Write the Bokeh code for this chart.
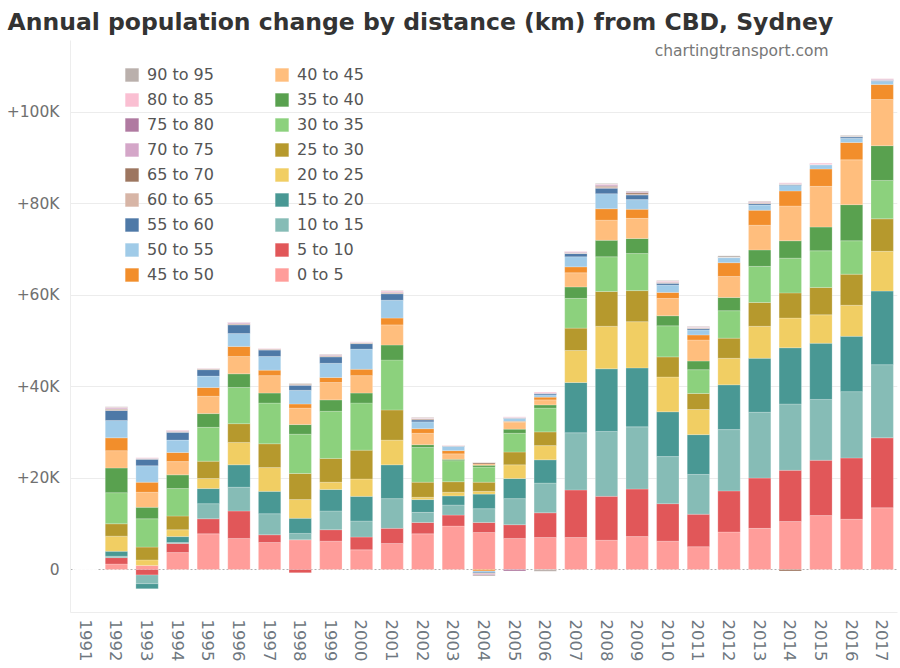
from bokeh.plotting import figure
from bokeh.models import (ColumnDataSource, Legend, LegendItem, FixedTicker,
                          CustomJSTickFormatter, Span, Label)
from bokeh.embed import file_html
from bokeh.resources import INLINE

# ---------------- data (thousands of persons) ----------------
years = [str(y) for y in range(1991, 2018)]

d0_5   = [0, 1.2, 0.9, 3.7, 7.8, 6.8, 5.9, 6.5, 6.2, 4.3, 5.7, 7.8, 9.5, 8.1, 6.8, 7.0, 7.0, 6.4, 7.2, 6.2, 5.0, 8.2, 9.0, 10.5, 11.8, 11.0, 13.5]
d5_10  = [0, 1.4, -1.2, 2.0, 3.3, 6.0, 1.7, -0.7, 2.5, 2.8, 3.3, 2.5, 2.4, 2.2, 3.0, 5.4, 10.4, 9.6, 10.4, 8.2, 7.1, 9.0, 11.0, 11.2, 12.1, 13.4, 15.3]
d10_15 = [0, 0.3, -1.9, 0.2, 3.3, 5.2, 4.6, 1.4, 4.1, 3.5, 6.5, 2.2, 2.2, 3.0, 5.7, 6.5, 12.5, 14.2, 13.6, 10.3, 8.7, 13.4, 14.4, 14.5, 13.3, 14.5, 16.0]
d15_20 = [0, 1.1, -1.1, 1.3, 3.3, 4.9, 4.9, 3.3, 4.7, 5.4, 7.4, 2.8, 2.0, 3.2, 4.4, 5.1, 11.0, 13.7, 12.9, 9.8, 8.7, 9.8, 11.8, 12.3, 12.3, 12.1, 16.1]
d20_25 = [0, 3.3, 1.2, 1.5, 2.2, 4.9, 5.2, 4.1, 1.6, 3.8, 5.4, 0.5, 0.8, 0.6, 3.0, 3.1, 7.0, 9.3, 10.1, 7.6, 5.5, 5.8, 7.0, 6.5, 6.2, 6.8, 8.7]
d25_30 = [0, 2.7, 2.8, 3.0, 3.8, 4.1, 5.2, 5.7, 5.2, 6.3, 6.6, 3.3, 2.3, 2.0, 2.8, 3.0, 4.9, 7.6, 6.8, 4.4, 3.5, 4.4, 5.2, 5.5, 6.0, 6.8, 7.1]
d30_35 = [0, 6.8, 6.2, 6.0, 7.4, 7.9, 8.9, 8.6, 10.3, 10.3, 10.9, 7.6, 4.6, 3.3, 4.1, 5.2, 6.5, 7.6, 8.1, 6.8, 5.2, 6.0, 7.9, 7.6, 8.0, 7.3, 8.4]
d35_40 = [0, 5.4, 2.5, 3.0, 3.0, 3.0, 2.2, 2.1, 2.5, 2.2, 3.3, 0.6, 0.3, 0.4, 0.9, 0.7, 2.5, 3.6, 3.3, 2.2, 1.9, 2.9, 3.6, 3.8, 5.2, 7.9, 7.6]
d40_45 = [0, 3.8, 3.3, 2.9, 3.8, 3.8, 3.8, 3.6, 3.8, 3.8, 4.4, 2.5, 1.2, 0.3, 1.5, 1.1, 3.1, 4.4, 4.4, 3.8, 4.6, 4.6, 5.4, 7.6, 8.9, 9.8, 10.1]
d45_50 = [0, 2.8, 2.2, 2.0, 1.9, 2.2, 1.2, 0.9, 1.1, 1.4, 1.5, 1.0, 0.7, -0.3, 0.2, 0.6, 1.3, 2.5, 2.0, 1.3, 1.1, 3.0, 3.3, 3.3, 3.8, 3.8, 3.3]
d50_55 = [0, 3.8, 3.6, 2.7, 2.5, 2.8, 3.0, 3.0, 3.1, 4.4, 3.9, 1.5, 0.9, -0.3, 0.6, 0.5, 2.2, 3.3, 2.1, 1.6, 1.1, 1.1, 1.1, 1.2, 0.9, 0.9, 0.7]
d55_60 = [0, 2.2, 1.4, 1.7, 1.4, 1.9, 1.4, 1.1, 1.4, 1.2, 1.4, 0.4, 0.1, -0.2, 0.1, 0.3, 0.7, 1.2, 1.0, 0.4, 0.3, 0.1, 0.3, 0.2, 0.1, 0.3, 0.2]
d60_65 = [0, 0.2, 0.1, 0.1, 0.1, 0.1, 0.1, 0.1, 0.1, 0.1, 0.1, 0.1, 0.0, -0.2, 0.1, 0.0, 0.1, 0.2, 0.2, 0.1, 0.1, 0.0, 0.1, 0.1, 0.0, 0.1, 0.0]
d65_70 = [0, 0.1, 0.1, 0.1, 0.1, 0.1, 0.1, 0.2, 0.1, 0.1, 0.1, 0.2, 0.1, 0.3, 0.0, 0.0, 0.1, 0.2, 0.3, 0.1, 0.1, 0.0, 0.1, -0.3, 0.0, 0.0, 0.0]
d70_75 = [0, 0.2, 0.1, 0.1, 0.1, 0.2, 0.1, 0.0, 0.1, 0.1, 0.1, 0.1, 0.0, -0.2, 0.1, 0.0, 0.1, 0.2, 0.1, 0.1, 0.1, 0.0, 0.1, 0.0, 0.0, 0.0, 0.1]
d75_80 = [0, 0.1, 0.0, 0.1, 0.0, 0.1, 0.0, 0.0, 0.1, 0.0, 0.1, 0.0, 0.0, 0.0, -0.3, 0.1, 0.1, 0.2, 0.2, 0.1, 0.0, 0.0, 0.1, 0.1, 0.0, 0.0, 0.1]
d80_85 = [0, 0.1, 0.1, 0.1, 0.1, 0.1, 0.1, 0.0, 0.1, 0.1, 0.2, 0.1, 0.1, 0.0, 0.1, 0.2, 0.1, 0.1, 0.0, 0.1, 0.1, 0.0, 0.1, 0.2, 0.3, 0.0, 0.2]
d90_95 = [0, 0.1, 0.0, 0.0, 0.0, 0.0, 0.0, 0.1, 0.1, 0.0, 0.1, 0.1, 0.0, -0.2, 0.0, -0.4, 0.0, 0.1, 0.1, 0.1, 0.1, 0.3, 0.1, 0.0, 0.0, 0.2, 0.0]

band_names = ["0 to 5", "5 to 10", "10 to 15", "15 to 20", "20 to 25", "25 to 30",
              "30 to 35", "35 to 40", "40 to 45", "45 to 50", "50 to 55", "55 to 60",
              "60 to 65", "65 to 70", "70 to 75", "75 to 80", "80 to 85", "90 to 95"]
band_values = [d0_5, d5_10, d10_15, d15_20, d20_25, d25_30, d30_35, d35_40, d40_45,
               d45_50, d50_55, d55_60, d60_65, d65_70, d70_75, d75_80, d80_85, d90_95]
band_colors = ["#FF9D9A", "#E15759", "#86BCB6", "#499894", "#F1CE63", "#B6992D",
               "#8CD17D", "#59A14F", "#FFBE7D", "#F28E2B", "#A0CBE8", "#4E79A7",
               "#D7B5A6", "#9D7660", "#D4A6C8", "#B07AA1", "#FABFD2", "#BAB0AC"]

y_ticks = [0, 20, 40, 60, 80, 100]

FONT = "DejaVu Sans"

p = figure(width=900, height=668, x_range=years, y_range=(-9.4, 115.7),
           output_backend="svg", toolbar_location=None,
           min_border_left=70, min_border_right=3, min_border_top=38,
           min_border_bottom=56)

p.title.text = "Annual population change by distance (km) from CBD, Sydney"
p.title.text_font = FONT
p.title.text_font_style = "bold"
p.title.text_font_size = "23.5px"
p.title.text_color = "#333333"
p.title.offset = -63

# stacked bars: positives upward from zero, negatives downward
pos_base = [0.0] * len(years)
neg_base = [0.0] * len(years)
renderers = {}
for name, vals, col in zip(band_names, band_values, band_colors):
    bottoms, tops = [], []
    for i, v in enumerate(vals):
        if v >= 0:
            bottoms.append(pos_base[i]); tops.append(pos_base[i] + v)
            pos_base[i] += v
        else:
            bottoms.append(neg_base[i] + v); tops.append(neg_base[i])
            neg_base[i] += v
    src = ColumnDataSource(dict(x=years, bottom=bottoms, top=tops))
    r = p.vbar(x="x", bottom="bottom", top="top", width=0.73, source=src,
               fill_color=col, line_color="white", line_alpha=0.35, line_width=0.6)
    renderers[name] = r

# legends (two columns)
left_col = ["90 to 95", "80 to 85", "75 to 80", "70 to 75", "65 to 70",
            "60 to 65", "55 to 60", "50 to 55", "45 to 50"]
right_col = ["40 to 45", "35 to 40", "30 to 35", "25 to 30", "20 to 25",
             "15 to 20", "10 to 15", "5 to 10", "0 to 5"]
for col_names, xoff in ((left_col, 53), (right_col, 203)):
    leg = Legend(items=[LegendItem(label=n, renderers=[renderers[n]]) for n in col_names],
                 location=(xoff, 328), orientation="vertical",
                 glyph_width=17, glyph_height=17, label_height=17, spacing=6,
                 label_standoff=7, padding=0, margin=0,
                 label_text_font=FONT, label_text_font_size="16px",
                 label_text_color="#555555",
                 background_fill_alpha=0, border_line_color=None)
    p.add_layout(leg)

# zero line
p.add_layout(Span(location=0, dimension="width", line_color="#b0b0b0",
                  line_dash="2 2", line_width=1, level="underlay"))

# source note
p.add_layout(Label(x=24.75, y=113.3, text="chartingtransport.com",
                   text_align="right", text_baseline="middle",
                   text_font=FONT, text_font_size="15.5px", text_color="#777777"))

# axes & grid
p.yaxis.ticker = FixedTicker(ticks=y_ticks)
p.yaxis.formatter = CustomJSTickFormatter(code="return tick == 0 ? '0' : '+' + tick + 'K';")
p.yaxis.major_label_text_font = FONT
p.yaxis.major_label_text_font_size = "15.5px"
p.yaxis.major_label_text_color = "#707070"
p.yaxis.major_tick_line_color = None
p.yaxis.minor_tick_line_color = None
p.yaxis.axis_line_color = "#ededed"
p.yaxis.major_label_standoff = 5

p.xaxis.major_label_orientation = "vertical"
p.xaxis.major_label_text_font = FONT
p.xaxis.major_label_text_font_size = "16.5px"
p.xaxis.major_label_text_color = "#6e7780"
p.xaxis.major_tick_line_color = None
p.xaxis.axis_line_color = "#ededed"
p.xaxis.major_label_standoff = 1

p.xgrid.grid_line_color = None
p.ygrid.ticker = FixedTicker(ticks=y_ticks[1:])
p.ygrid.grid_line_color = "#ececec"
p.outline_line_color = None

open("out.html", "w").write(file_html(p, INLINE))
